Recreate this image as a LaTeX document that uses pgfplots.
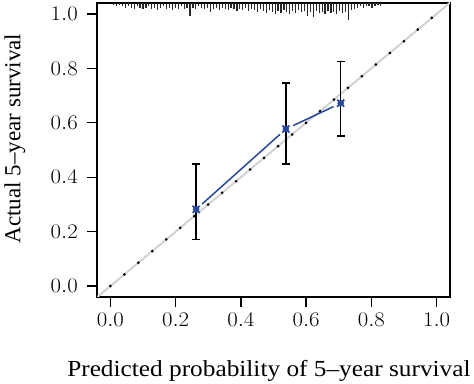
\documentclass[border=0pt]{standalone}
\usepackage{pgfplots}
\pgfplotsset{compat=1.18}
\usepackage{pgfplotstable}
\usepackage{graphicx}
\usepackage{fontspec}
\setmainfont{Liberation Serif}
\definecolor{calblue}{RGB}{40,70,155}
\definecolor{diaggray}{RGB}{210,210,210}

\pgfplotstableread{
x l
0.010 2
0.019 3
0.028 2
0.037 3
0.046 4
0.055 3
0.064 4
0.073 5
0.082 3
0.091 4
0.100 5
0.109 4
0.118 3
0.127 5
0.136 4
0.145 6
0.154 4
0.163 3
0.172 5
0.181 4
0.190 6
0.199 4
0.208 5
0.217 3
0.226 5
0.235 4
0.244 11
0.253 4
0.262 5
0.271 3
0.280 4
0.289 5
0.298 4
0.307 8
0.316 5
0.325 4
0.334 6
0.343 4
0.352 5
0.361 6
0.370 4
0.379 5
0.388 7
0.397 5
0.406 6
0.415 4
0.424 7
0.433 5
0.442 6
0.451 8
0.460 5
0.469 7
0.478 9
0.487 6
0.496 8
0.505 10
0.514 7
0.523 9
0.532 6
0.541 8
0.550 10
0.559 7
0.568 9
0.577 6
0.586 8
0.595 7
0.604 11
0.613 8
0.622 12
0.631 7
0.640 9
0.649 8
0.658 10
0.667 7
0.676 9
0.685 8
0.694 10
0.703 7
0.712 9
0.721 8
0.730 15
0.739 6
0.748 5
0.757 4
0.766 3
0.775 4
0.784 3
0.793 3
0.802 4
0.811 3
0.820 2
0.829 3
}\rugdata

\begin{document}
\begin{tikzpicture}
\path[use as bounding box] (0,0) rectangle (474pt,383pt);
\begin{axis}[
  at={(97pt,86pt)}, anchor=south west,
  scale only axis, width=353pt, height=294pt,
  xmin=-0.041, xmax=1.041, ymin=-0.04, ymax=1.04,
  axis line style={line width=1.3pt},
  tick pos=left, tick align=outside,
  major tick length=10pt,
  every tick/.style={black, line width=1.3pt},
  xtick={0,0.2,...,1.0}, ytick={0,0.2,...,1.0},
  xticklabel={\scalebox{1.1}[1]{\pgfmathprintnumber[fixed, fixed zerofill, precision=1]{\tick}}},
  yticklabel={\scalebox{1.1}[1]{\pgfmathprintnumber[fixed, fixed zerofill, precision=1]{\tick}}},
  ticklabel style={font=\fontsize{21}{24}\selectfont},
  yticklabel style={inner sep=0pt, xshift=-9pt},
  xticklabel style={inner sep=0pt, yshift=-6pt},
  xlabel={\scalebox{1.1}[1]{Predicted probability of 5--year survival}},
  ylabel={Actual 5--year survival},
  label style={font=\fontsize{23}{26}\selectfont},
  xlabel style={at={([yshift=-79pt]axis description cs:0.487,0)}, anchor=base, inner sep=0pt},
  ylabel style={at={([xshift=-82pt]axis description cs:0,0.539)}, anchor=center, inner sep=0pt},
  clip=true,
]
% ideal line
\addplot[diaggray, line width=2pt] coordinates {(-0.1,-0.1) (1.1,1.1)};
% dotted diagonal
\addplot[black, line width=3pt, line cap=round, dash pattern=on 0pt off 18.2pt] coordinates {(0,0) (1.02,1.02)};
% rug
\addplot[draw=none, mark=none, forget plot,
  error bars/.cd, y dir=minus, y explicit, error mark=none,
  error bar style={black!85, line width=1.2pt}]
  table[x=x, y expr=1.04, y error expr=\thisrow{l}*0.0042] {\rugdata};
% blue segments (type b with gaps)
\addplot[calblue, line width=1.5pt, shorten <=8pt, shorten >=8pt] coordinates {(0.263,0.282) (0.538,0.577)};
\addplot[calblue, line width=1.5pt, shorten <=8pt, shorten >=8pt] coordinates {(0.538,0.577) (0.706,0.672)};
% error bars
\addplot[draw=none, mark=none,
  error bars/.cd, y dir=both, y explicit,
  error bar style={black, line width=1.4pt},
  error mark options={black, rotate=90, mark size=3.8pt, line width=1.4pt}]
  coordinates {
  (0.263,0.282) += (0,0.167) -= (0,0.110)
  (0.538,0.577) += (0,0.169) -= (0,0.128)
  (0.706,0.672) += (0,0.153) -= (0,0.121)
  };
% markers
\addplot[only marks, mark=*, mark size=3pt, calblue] coordinates {(0.263,0.282) (0.538,0.577) (0.706,0.672)};
\addplot[only marks, mark=x, mark size=5pt, calblue, mark options={line width=1.7pt}] coordinates {(0.263,0.282) (0.538,0.577) (0.706,0.672)};
\end{axis}
\end{tikzpicture}
\end{document}
